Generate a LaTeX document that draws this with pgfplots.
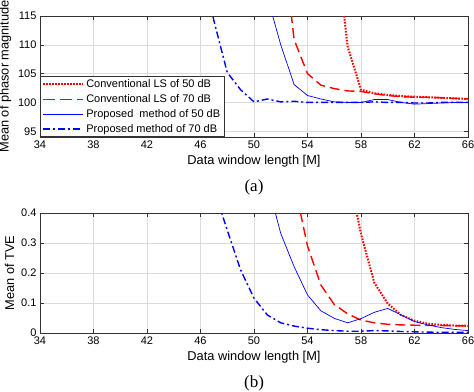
\documentclass[border=0pt]{standalone}
\usepackage{fontspec}
\setmainfont{Liberation Sans}
\newfontfamily\timesf{Liberation Serif}
\usepackage{pgfplots}
\pgfplotsset{compat=1.18}
\definecolor{gridc}{gray}{0.86}
\definecolor{axc}{gray}{0.2}
\pgfplotsset{
  myax/.style={
    scale only axis, width=428pt,
    xmin=34, xmax=66, xtick={34,38,...,66},
    grid=major, major grid style={gridc, line width=0.6pt},
    axis line style={axc, line width=0.8pt},
    tick style={axc, line width=0.6pt}, tick align=inside, major tick length=4pt,
    tick label style={font=\fontsize{11}{12}\selectfont},
    label style={font=\fontsize{12.8}{14}\selectfont},
    /pgf/number format/assume math mode=true,
    xlabel={Data window length [M]},
    clip=true,
  },
  cls50/.style={color=red, line width=2pt, dash pattern=on 1.6pt off 1.4pt},
  cls70/.style={color=red, line width=1.4pt, dash pattern=on 10pt off 5pt},
  pm50/.style={color=blue, line width=0.7pt},
  pm70/.style={color=blue, line width=1.4pt, dash pattern=on 7pt off 3pt on 2pt off 3pt},
}
\begin{document}
\begin{tikzpicture}[x=1pt,y=1pt]
\begin{axis}[myax, at={(40pt,-137pt)}, anchor=south west, height=121pt,
  ymin=94, ymax=115, ytick={95,100,...,115},
  ylabel={Mean of phasor magnitude},
  legend cell align=left,
  legend style={at={(0,0)}, anchor=south west, draw=axc, line width=0.6pt, fill=white,
    font=\fontsize{11}{12}\selectfont,
    inner xsep=2pt, inner ysep=1pt,
    row sep=1.4pt},
]
\addplot[cls50, legend image code/.code={\draw[color=red, line width=2pt, dash pattern=on 1.6pt off 1.4pt] (0pt,0pt) -- (40pt,0pt);}] coordinates {(56,130) (57,109.7) (58,102.2) (59,101.6) (60,101.3) (61,101.1) (62,101.0) (63,100.9) (64,100.8) (65,100.7) (66,100.6)};
\addlegendentry{Conventional LS of 50 dB}
\addplot[cls70, legend image code/.code={\draw[color=red, line width=1.4pt, dash pattern=on 12pt off 5pt] (0pt,0pt) -- (40pt,0pt);}] coordinates {(52,131) (53,110.9) (54,105.0) (55,103.0) (56,102.4) (57,102.0) (58,101.9) (59,101.5) (60,101.2) (61,101.0) (62,100.9) (63,100.9) (64,100.8) (65,100.7) (66,100.6)};
\addlegendentry{Conventional LS of 70 dB}
\addplot[pm50, legend image code/.code={\draw[color=blue, line width=0.7pt] (0pt,0pt) -- (40pt,0pt);}] coordinates {(51,118.3) (52,110) (53,103.1) (54,101.2) (55,100.6) (56,100.1) (57,100.0) (58,100.0) (59,100.5) (60,100.5) (61,100.0) (62,99.7) (63,99.8) (64,99.9) (65,100.0) (66,100.0)};
\addlegendentry{Proposed\ \ method of 50 dB}
\addplot[pm70, legend image code/.code={\draw[color=blue, line width=1.4pt, dash pattern=on 7pt off 3pt on 2pt off 3pt] (0pt,0pt) -- (40pt,0pt);}] coordinates {(46,125) (47,114.2) (48,105.2) (49,102.2) (50,100.1) (51,100.6) (52,100.1) (53,100.2) (54,100.0) (55,100.0) (56,100.0) (57,100.0) (58,100.0) (59,100.1) (60,100.0) (61,100.0) (62,99.9) (63,99.9) (64,100.0) (65,100.0) (66,100.0)};
\addlegendentry{Proposed method of 70 dB}
\end{axis}
\node[font=\timesf\fontsize{17}{18}\selectfont] at (254pt,-187pt) {(a)};
\begin{axis}[myax, at={(40pt,-333pt)}, anchor=south west, height=120pt,
  ymin=0, ymax=0.4, ytick={0,0.1,...,0.4},
  yticklabels={0,0.1,0.2,0.3,0.4},
  ylabel={Mean of TVE},
]
\addplot[cls50] coordinates {(57,0.55) (58,0.33) (59,0.167) (60,0.098) (61,0.060) (62,0.041) (63,0.031) (64,0.027) (65,0.025) (66,0.024)};
\addplot[cls70] coordinates {(53,0.50) (54,0.29) (55,0.16) (56,0.095) (57,0.064) (58,0.043) (59,0.034) (60,0.029) (61,0.027) (62,0.026) (63,0.025) (64,0.025) (65,0.024) (66,0.024)};
\addplot[pm50] coordinates {(51,0.5) (52,0.332) (53,0.221) (54,0.127) (55,0.074) (56,0.049) (57,0.034) (58,0.048) (59,0.069) (60,0.082) (61,0.06) (62,0.038) (63,0.027) (64,0.018) (65,0.012) (66,0.008)};
\addplot[pm70] coordinates {(47,0.48) (48,0.343) (49,0.21) (50,0.116) (51,0.06) (52,0.034) (53,0.023) (54,0.016) (55,0.011) (56,0.008) (57,0.006) (58,0.006) (59,0.008) (60,0.007) (61,0.005) (62,0.004) (63,0.003) (64,0.002) (65,0.002) (66,0.002)};
\end{axis}
\node[font=\timesf\fontsize{17}{18}\selectfont] at (254pt,-383pt) {(b)};
\pgfresetboundingbox
\useasboundingbox (0pt,0pt) rectangle (474pt,-391pt);
\end{tikzpicture}
\end{document}
